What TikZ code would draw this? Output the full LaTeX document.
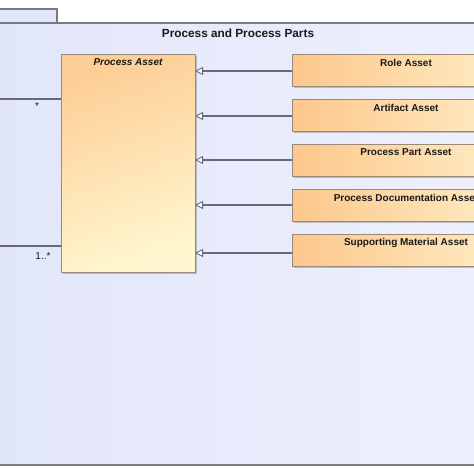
\documentclass[tikz,border=0pt]{standalone}
\usepackage{fontspec}
\setmainfont{Liberation Sans}
\usetikzlibrary{arrows.meta,shadows}
\definecolor{frameA}{HTML}{E2E6FA}
\definecolor{frameB}{HTML}{EFF1FC}
\definecolor{frameline}{HTML}{767986}
\definecolor{orangeA}{HTML}{FDC78C}
\definecolor{orangeB}{HTML}{FFEFC8}
\definecolor{paTop}{HTML}{FDCE96}
\definecolor{paBot}{HTML}{FFF7CF}
\definecolor{boxline}{HTML}{9A8B78}
\definecolor{conn}{HTML}{666A78}
\definecolor{txt}{HTML}{1A1A1A}
\tikzset{
  shadowed/.style={drop shadow={shadow xshift=1.6pt,shadow yshift=-1.6pt,opacity=0.45,fill=gray}},
  partbox/.style={draw=boxline,line width=0.8pt,left color=orangeA,right color=orangeB,
    minimum width=228pt,minimum height=32pt,anchor=north west,outer sep=0pt,shadowed,
    inner sep=0pt},
  boxtitle/.style={font=\bfseries\fontsize{10}{12}\selectfont,text=txt},
  gen/.style={draw=conn,line width=1.1pt,-{Triangle[open,length=8pt,width=8pt,fill=white,line width=0.9pt]}},
  assoc/.style={draw=conn,line width=1.1pt},
  mult/.style={font=\fontsize{10}{12}\selectfont,text=txt},
}
\begin{document}
\begin{tikzpicture}[x=1pt,y=-1pt]
\useasboundingbox (0,0) rectangle (474,474);
\clip (0,0) rectangle (474,474);
\fill[white] (0,0) rectangle (474,474);
% package tab and frame
\node[draw=frameline,line width=1.1pt,fill=frameA,anchor=north west,minimum width=67pt,minimum height=14pt,inner sep=0pt,outer sep=0pt] (tab) at (-10,9) {};
\node[draw=frameline,line width=1.1pt,left color=frameA,right color=frameB,anchor=north west,minimum width=550pt,minimum height=442pt,inner sep=0pt,outer sep=0pt] (frame) at (-10,23) {};
\node[font=\bfseries\fontsize{11.8}{14}\selectfont,text=txt] (title) at (238,33.5) {Process and Process Parts};
% Process Asset
\node[draw=boxline,line width=0.8pt,top color=paTop,bottom color=paBot,shading angle=20,
  minimum width=134pt,minimum height=218pt,anchor=north west,outer sep=0pt,inner sep=0pt,shadowed] (pa) at (61,54) {};
\node[font=\bfseries\itshape\fontsize{10}{12}\selectfont,text=txt] (patitle) at (128,62.5) {Process Asset};
% part boxes
\node[partbox] (role) at (292,54) {};
\node[boxtitle] (roleT) at (406,62.5) {Role Asset};
\node[partbox] (art) at (292,99) {};
\node[boxtitle] (artT) at (406,107.5) {Artifact Asset};
\node[partbox] (ppa) at (292,144) {};
\node[boxtitle] (ppaT) at (406,152.5) {Process Part Asset};
\node[partbox] (pda) at (292,189) {};
\node[boxtitle] (pdaT) at (406,197.5) {Process Documentation Asset};
\node[partbox] (sma) at (292,234) {};
\node[boxtitle] (smaT) at (406,242.5) {Supporting Material Asset};
% generalizations
\draw[gen] ([yshift=-1pt]role.west) -- ([yshift=-1pt]role.west -| pa.east);
\draw[gen] ([yshift=-1pt]art.west) -- ([yshift=-1pt]art.west -| pa.east);
\draw[gen] (ppa.west) -- (ppa.west -| pa.east);
\draw[gen] (pda.west) -- (pda.west -| pa.east);
\draw[gen] ([yshift=-3pt]sma.west) -- ([yshift=-3pt]sma.west -| pa.east);
% associations from the left
\coordinate (l1) at (0,99);
\coordinate (l2) at (0,246);
\draw[assoc] (l1) -- (l1 -| pa.west);
\draw[assoc] (l2) -- (l2 -| pa.west);
\node[mult] (m1) at (37,106) {*};
\node[mult] (m2) at (43,256) {1..*};
\end{tikzpicture}
\end{document}
